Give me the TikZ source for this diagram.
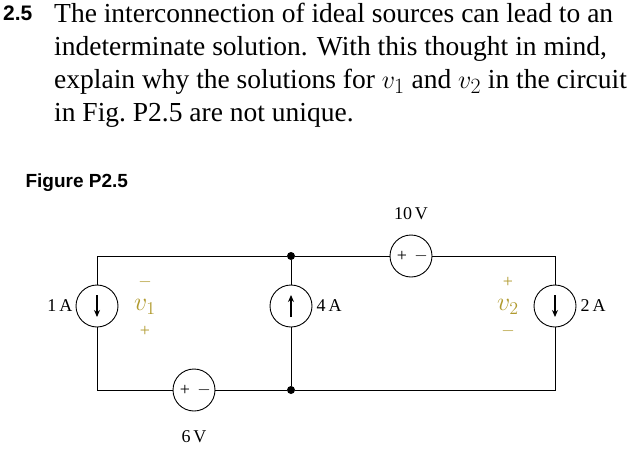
\documentclass[tikz,border=0pt]{standalone}
\usepackage{fontspec}
\setmainfont{Liberation Serif}
\setsansfont{Liberation Sans}
\usetikzlibrary{arrows.meta}
\definecolor{olv}{HTML}{B09A2E}
\begin{document}
\begin{tikzpicture}[x=1pt,y=-1pt,
  src/.style={circle,draw,line width=0.9pt,minimum size=42pt,inner sep=0pt},
  wire/.style={line width=0.9pt},
  lbl/.style={font=\fontsize{18}{18}\selectfont},
  pol/.style={font=\fontsize{18}{18}\selectfont,text=olv},
  dotn/.style={circle,fill,inner sep=0pt,minimum size=8pt},
  body/.style={font=\fontsize{27.5}{33}\selectfont,anchor=north west,align=left,inner sep=0pt}]
\useasboundingbox (0,0) rectangle (627,450);
\node[body,font=\sffamily\bfseries\fontsize{21}{33}\selectfont] (num) at (3,6) {2.5};
\node[body] (txt) at (54,3) {The interconnection of ideal sources can lead to an\\ indeterminate solution. With this thought in mind,\\ explain why the solutions for \scalebox{1.05}{$v_1$} and \scalebox{1.05}{$v_2$} in the circuit\\ in Fig.~P2.5 are not unique.};
\node[anchor=west,font=\sffamily\bfseries\fontsize{19}{19}\selectfont] (fig) at (22,183) {Figure P2.5};
\coordinate (tl) at (97,256); \coordinate (bl) at (97,390);
\coordinate (tr) at (555,256); \coordinate (br) at (555,390);
\node[dotn] (jt) at (291,256) {};
\node[dotn] (jb) at (291,390) {};
\node[src] (s1) at (97,306) {};
\node[src] (s4) at (291,306) {};
\node[src] (s2) at (555,306) {};
\node[src] (s10) at (411,256) {};
\node[src] (s6) at (194,390) {};
\draw[wire] (s1.north) -- (tl) -- (jt) -- (s10.west);
\draw[wire] (s10.east) -- (tr) -- (s2.north);
\draw[wire] (s2.south) -- (br) -- (jb) -- (s6.east);
\draw[wire] (s6.west) -- (bl) -- (s1.south);
\draw[wire] (jt) -- (s4.north); \draw[wire] (s4.south) -- (jb);
\draw[line width=1.1pt,-{Stealth[length=7pt,width=6pt]}] ([yshift=11pt]s1.center) -- ([yshift=-11pt]s1.center);
\draw[line width=1.1pt,-{Stealth[length=7pt,width=6pt]}] ([yshift=11pt]s2.center) -- ([yshift=-11pt]s2.center);
\draw[line width=1.1pt,-{Stealth[length=7pt,width=6pt]}] ([yshift=-11pt]s4.center) -- ([yshift=11pt]s4.center);
\node[lbl] (p10) at ([xshift=-9pt]s10.center) {+};
\node[lbl] (m10) at ([xshift=10pt]s10.center) {$-$};
\node[lbl] (p6) at ([xshift=-9pt]s6.center) {+};
\node[lbl] (m6) at ([xshift=10pt]s6.center) {$-$};
\node[lbl,anchor=east] (l1) at (76,306) {1\,A};
\node[lbl,anchor=west] (l4) at (313,306) {4\,A};
\node[lbl,anchor=west] (l2) at (577,306) {2\,A};
\node[lbl] (l10) at (411,214) {10\,V};
\node[lbl] (l6) at (194,437) {6\,V};
\node[pol] (v1) at (145,307) {\scalebox{1.5}{$v_1$}};
\node[pol] (v1m) at (145,282) {$-$};
\node[pol] (v1p) at (145,331) {+};
\node[pol] (v2) at (508,307) {\scalebox{1.5}{$v_2$}};
\node[pol] (v2p) at (508,282) {+};
\node[pol] (v2m) at (508,331) {$-$};
\end{tikzpicture}
\end{document}
